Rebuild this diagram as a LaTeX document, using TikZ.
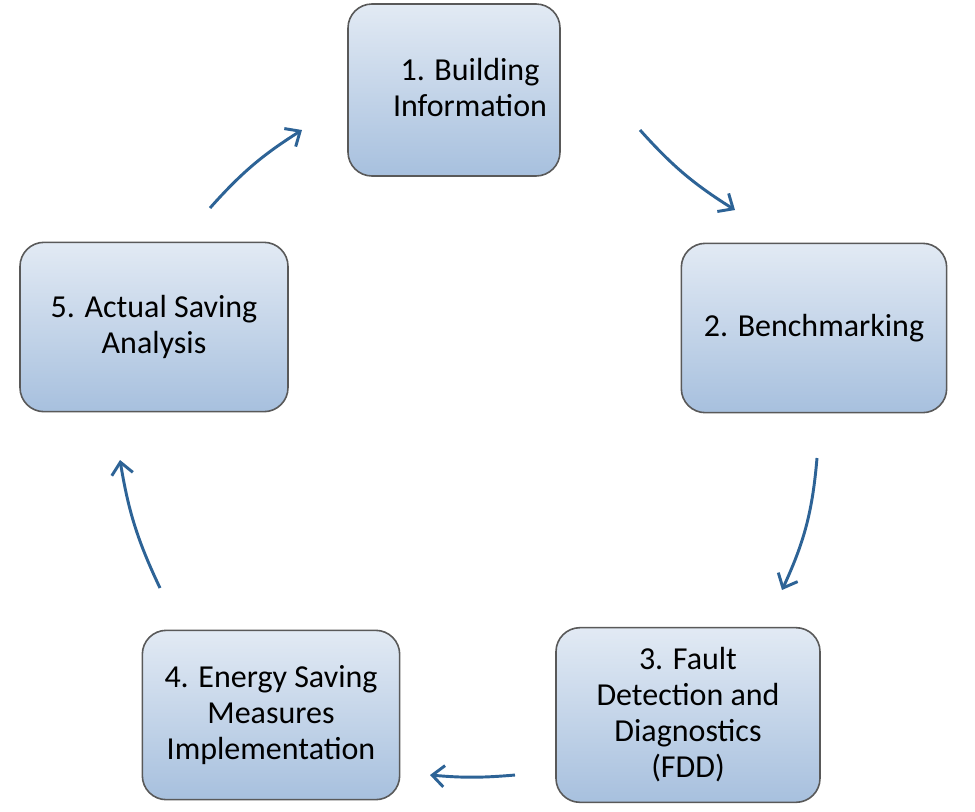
\documentclass[tikz,border=0pt]{standalone}
\usepackage{fontspec}
\setmainfont{Carlito}
\usetikzlibrary{arrows.meta}
\definecolor{topc}{HTML}{E2EAF4}
\definecolor{botc}{HTML}{A7C0DE}
\definecolor{arr}{HTML}{2D6396}
\begin{document}
\begin{tikzpicture}[x=0.75pt,y=-0.75pt,
  box/.style={draw=black!65,line width=1.2pt,rounded corners=18pt,top color=topc,bottom color=botc,
    align=center,font=\fontsize{24}{27}\selectfont,inner sep=0pt},
  flow/.style={draw=arr,line width=2.2pt,-{Straight Barb[length=9pt,width=16pt,line width=2.2pt]}}]
\useasboundingbox (0,0) rectangle (975,811);
\node[box,minimum width=159pt,minimum height=129pt] (b1) at (454,90) {};
\node[font=\fontsize{24}{27}\selectfont,align=center] (t1) at (470,88) {1. Building\\Information};
\node[box,minimum width=199pt,minimum height=127pt] (b2) at (814,328) {2. Benchmarking};
\node[box,minimum width=198pt,minimum height=131pt] (b3) at (688,715) {3. Fault\\Detection and\\Diagnostics\\(FDD)};
\node[box,minimum width=193pt,minimum height=127pt] (b4) at (271,715) {4. Energy Saving\\Measures\\Implementation};
\node[box,minimum width=201pt,minimum height=127pt] (b5) at (154,327) {5. Actual Saving\\Analysis};
\coordinate (a1s) at (640,130); \coordinate (a1e) at (735,210);
\coordinate (a2s) at (817,458); \coordinate (a2e) at (782,590);
\coordinate (a3s) at (515,775); \coordinate (a3e) at (430,775);
\coordinate (a4s) at (160,588); \coordinate (a4e) at (120,460);
\coordinate (a5s) at (210,208); \coordinate (a5e) at (302,130);
\draw[flow] (a1s) to[bend right=8] (a1e);
\draw[flow] (a2s) to[bend left=10] (a2e);
\draw[flow] (a3s) to[bend left=5] (a3e);
\draw[flow] (a4s) to[bend left=8] (a4e);
\draw[flow] (a5s) to[bend left=8] (a5e);
\end{tikzpicture}
\end{document}
